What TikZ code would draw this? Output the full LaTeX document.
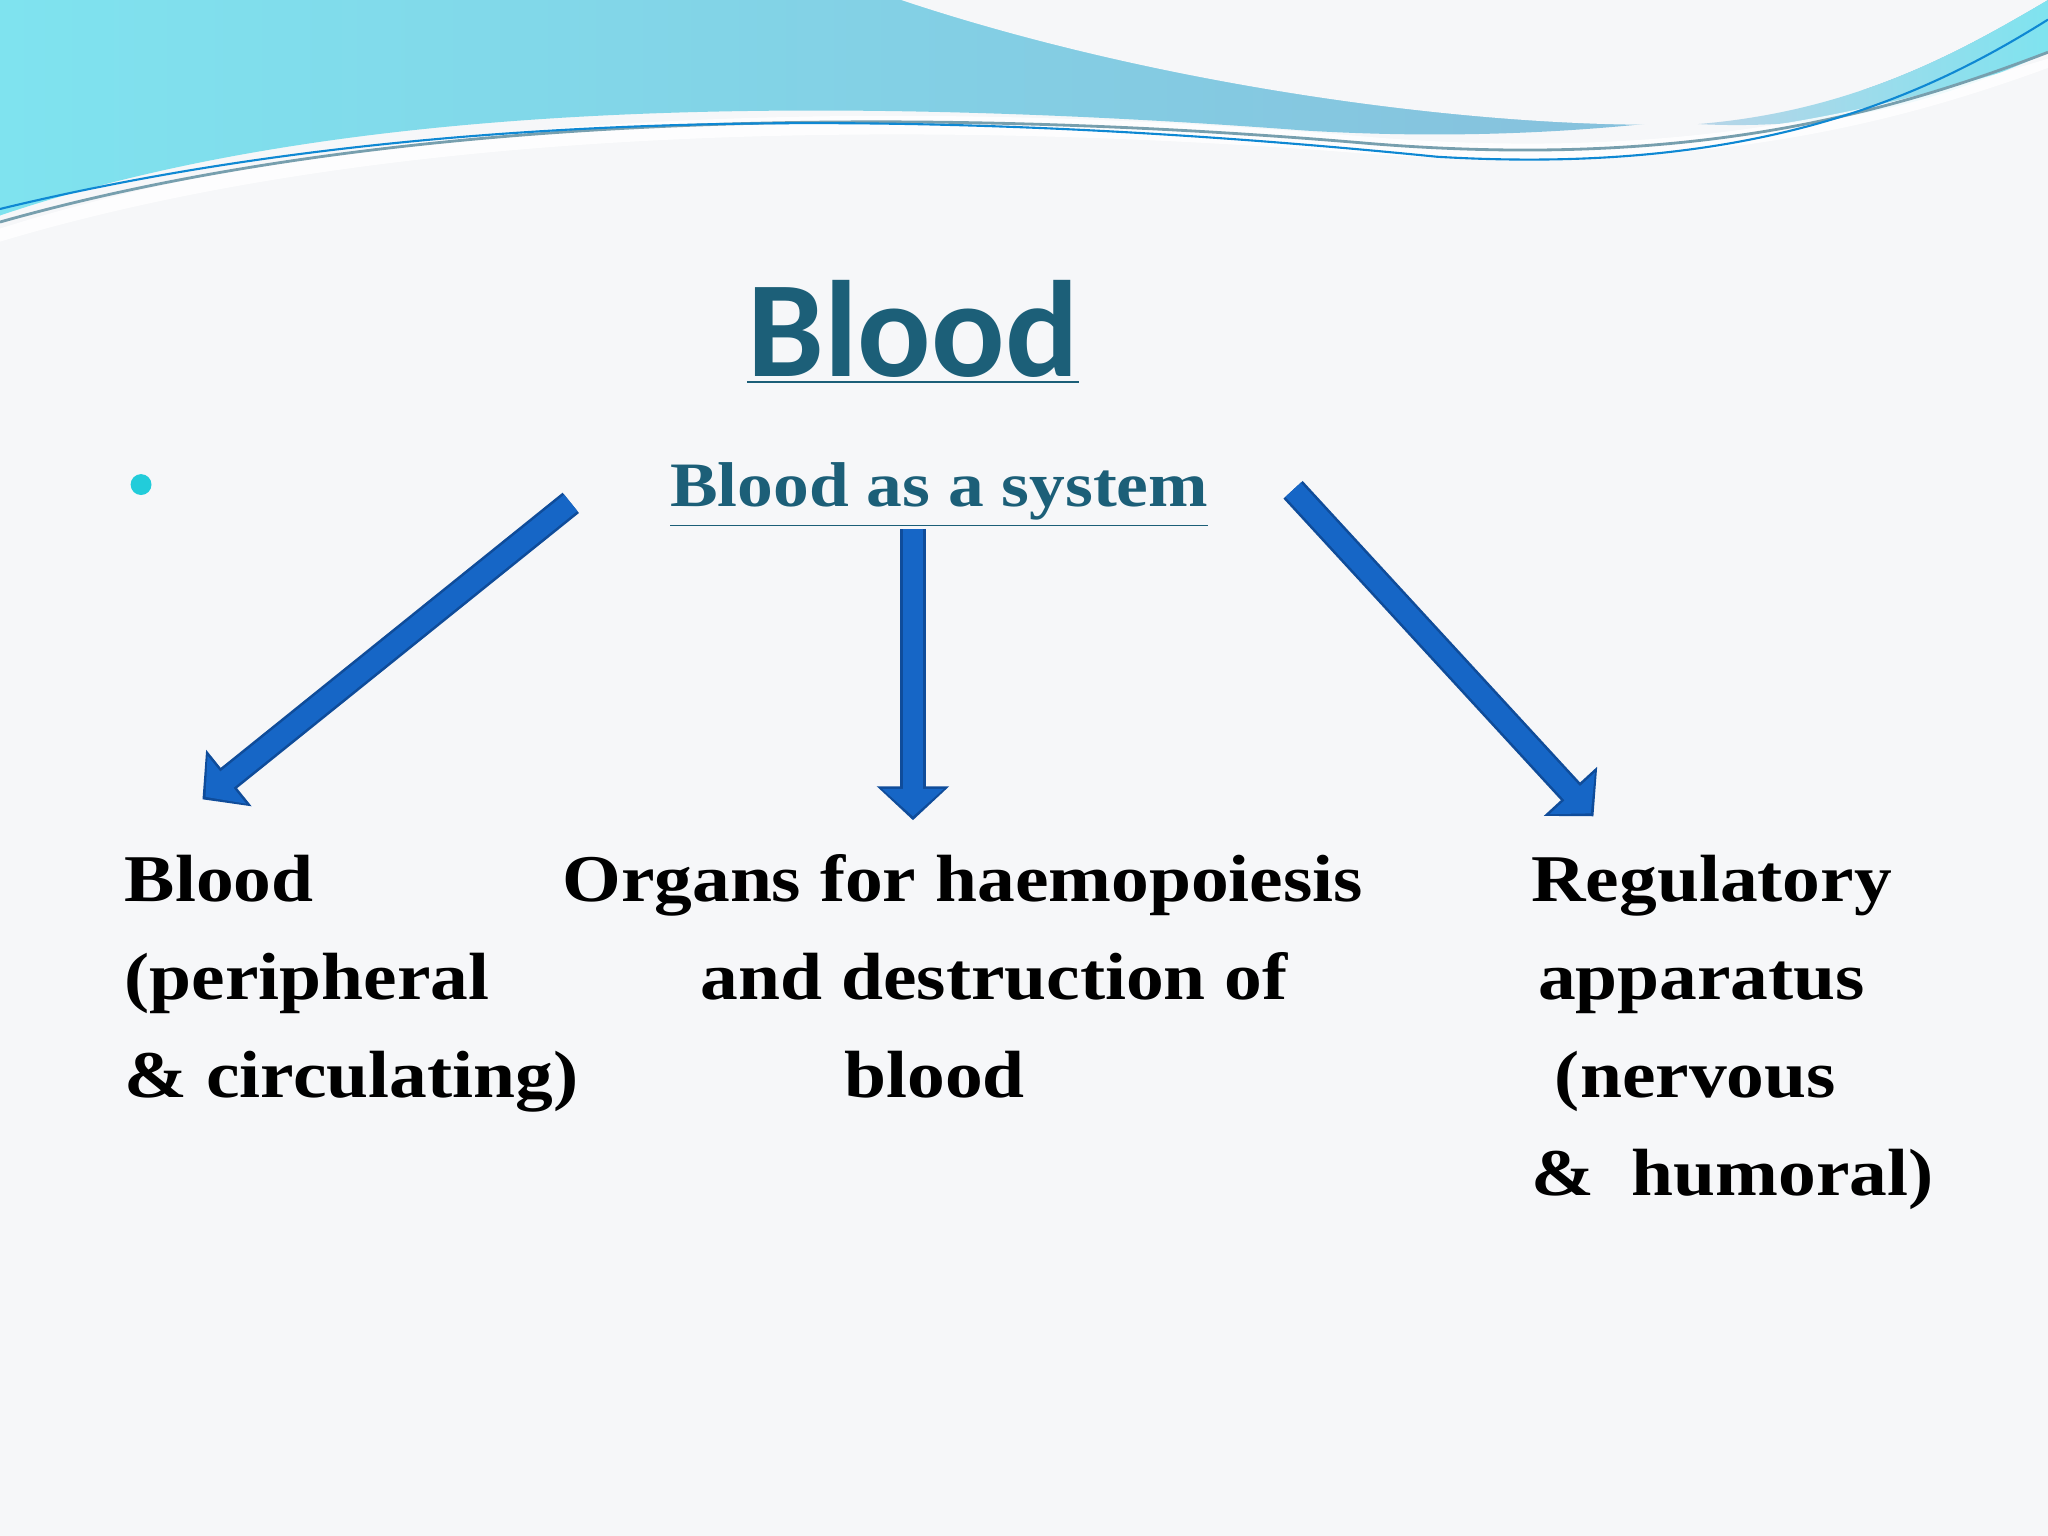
\documentclass[tikz,border=0pt]{standalone}
\usepackage{fontspec}
\setmainfont{Liberation Serif}
\newfontfamily\widefont[FakeStretch=1.13]{Liberation Serif}
\newfontfamily\titlefont{Carlito}
\usetikzlibrary{arrows.meta}
\definecolor{bg}{HTML}{F6F7F9}
\definecolor{teal}{HTML}{1C5F78}
\definecolor{arrfill}{HTML}{1666C6}
\definecolor{arrline}{HTML}{0F4C9A}
\definecolor{cyanA}{HTML}{7FE3EF}
\definecolor{blueA}{HTML}{88B8D8}
\definecolor{bulc}{HTML}{22CCDA}
\begin{document}
\begin{tikzpicture}[x=0.013061cm,y=-0.013061cm,
  body/.style={font=\widefont\bfseries\fontsize{19}{22}\selectfont, anchor=base west, inner sep=0},
  bigarrow/.style={line width=20*0.3716pt, arrline, -{Triangle[width=54*0.3716pt,length=26*0.3716pt]}},
  bigarrowin/.style={line width=16*0.3716pt, arrfill, -{Triangle[width=46*0.3716pt,length=21*0.3716pt]}, shorten >=3*0.3716pt}]
\fill[bg] (0,0) rectangle (1568,1176);
\useasboundingbox (0,0) rectangle (1568,1176);
% header waves
\shade[left color=cyanA, right color=blueA] (0,0) -- (0,165) .. controls (250,80) and (600,70) .. (1000,100) .. controls (1250,115) and (1450,70) .. (1568,30) -- (1568,0) -- cycle;
\fill[bg] (690,0) .. controls (900,70) and (1150,100) .. (1300,95) .. controls (1420,85) and (1500,40) .. (1568,0) -- cycle;
\shade[left color=blueA!60, right color=cyanA] (1300,95) .. controls (1420,85) and (1500,40) .. (1568,0) -- (1568,40) .. controls (1480,80) and (1400,100) .. (1300,95) -- cycle;
\fill[white,opacity=0.85] (0,175) .. controls (300,80) and (700,75) .. (1050,105) .. controls (1300,125) and (1450,80) .. (1568,45) -- (1568,52) .. controls (1450,95) and (1300,135) .. (1050,118) .. controls (700,90) and (300,95) .. (0,185) -- cycle;
\draw[teal!60, line width=0.8pt] (0,170) .. controls (300,85) and (700,80) .. (1050,110) .. controls (1300,130) and (1450,85) .. (1568,40);
\draw[cyan!70!blue, line width=0.6pt] (0,160) .. controls (350,75) and (750,85) .. (1100,120) .. controls (1350,135) and (1480,70) .. (1568,15);
% title
\node[font=\titlefont\bfseries\fontsize{39}{44}\selectfont, text=teal, anchor=base] (title) at (699,288) {\underline{Blood}};
\node[circle, fill=bulc, inner sep=0, minimum size=16*0.3716pt] (bul) at (108,371) {};
\node[font=\widefont\bfseries\fontsize{18}{20}\selectfont, text=teal, anchor=base] (sub) at (719,388) {\underline{Blood as a system}};
% arrows
\coordinate (l1) at (437,385); \coordinate (l2) at (155,612);
\coordinate (m1) at (699,405); \coordinate (m2) at (699,628);
\coordinate (r1) at (990,375); \coordinate (r2) at (1220,625);
\draw[bigarrow] (l1) -- (l2); \draw[bigarrowin] (l1) -- (l2);
\draw[bigarrow] (m1) -- (m2); \draw[bigarrowin] (m1) -- (m2);
\draw[bigarrow] (r1) -- (r2); \draw[bigarrowin] (r1) -- (r2);
% text
\node[body] (a1) at (95,690) {Blood};
\node[body] (a2) at (95,765) {(peripheral};
\node[body] (a3) at (95,840) {\& circulating)};
\node[body] (b1) at (430,690) {Organs for haemopoiesis};
\node[body] (b2) at (536,765) {and destruction of};
\node[body] (b3) at (646,840) {blood};
\node[body] (c1) at (1172,690) {Regulatory};
\node[body] (c2) at (1177,765) {apparatus};
\node[body] (c3) at (1190,840) {(nervous};
\node[body] (c4) at (1172,915) {\&\ \ humoral)};
\end{tikzpicture}
\end{document}
